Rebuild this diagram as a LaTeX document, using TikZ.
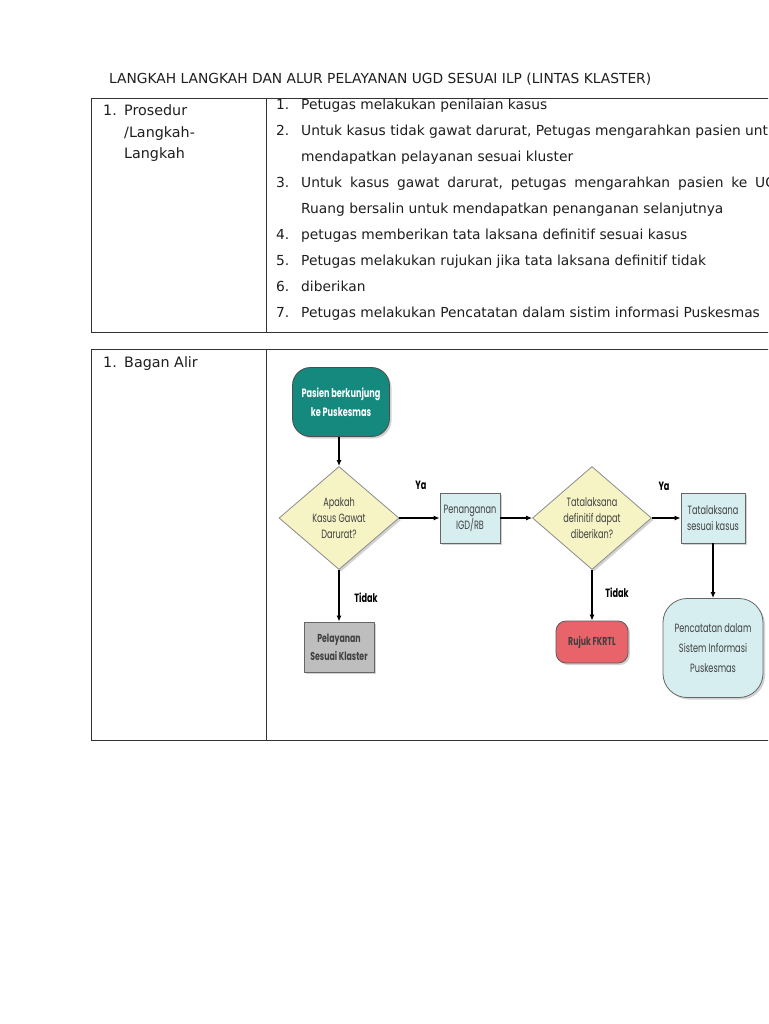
\documentclass[tikz,border=0pt]{standalone}
\usepackage{fontspec}
\setmainfont{DejaVu Sans}
\newfontfamily\flowfont[FakeStretch=0.68]{Poppins}
\usetikzlibrary{shapes.geometric,arrows.meta,shadows}
\definecolor{tealc}{RGB}{22,137,126}
\definecolor{yellowc}{RGB}{246,244,196}
\definecolor{cyanc}{RGB}{214,238,240}
\definecolor{grayc}{RGB}{190,190,190}
\definecolor{redc}{RGB}{232,100,106}
\definecolor{txtc}{RGB}{30,30,30}
\begin{document}
\begin{tikzpicture}[x=1pt,y=-1pt,
  tbl/.style={draw=black!80,line width=0.9pt},
  txt/.style={anchor=base west,inner sep=0pt,font=\fontsize{13.8}{16}\selectfont,text=txtc},
  ltxt/.style={txt,font=\fontsize{14.3}{16}\selectfont},
  fbox/.style={draw=black!60,line width=0.8pt,align=center,inner sep=1pt,
     font=\flowfont\fontsize{12}{16}\selectfont,text=black!75,
     drop shadow={shadow xshift=2pt,shadow yshift=-2pt,opacity=0.35}},
  dia/.style={fbox,diamond,fill=yellowc,draw=black!45,inner sep=0pt},
  conn/.style={-{Latex[length=6pt,width=5pt]},line width=2pt,black},
  lbl/.style={font=\flowfont\bfseries\fontsize{12}{12}\selectfont,inner sep=0pt}
]
\useasboundingbox (0,0) rectangle (768,1024);
\clip (0,0) rectangle (768,1024);
\fill[white] (0,0) rectangle (768,1024);

% title
\node[txt] (title) at (109,84) {LANGKAH LANGKAH DAN ALUR PELAYANAN UGD SESUAI ILP (LINTAS KLASTER)};

% table 1
\draw[tbl] (91,98) rectangle (800,332);
\draw[tbl] (266,98) -- (266,332);
\node[ltxt] (l1n) at (103,116) {1.};
\node[ltxt] (l1a) at (124,116) {Prosedur};
\node[ltxt] (l1b) at (124,138) {/Langkah-};
\node[ltxt] (l1c) at (124,159) {Langkah};

\node[txt] (n1) at (276,110) {1.};
\node[txt] (t1) at (301,110) {Petugas melakukan penilaian kasus};
\node[txt] (n2) at (276,136) {2.};
\node[txt] (t2) at (301,136) {Untuk kasus tidak gawat darurat, Petugas mengarahkan pasien untuk};
\node[txt] (t2b) at (301,162) {mendapatkan pelayanan sesuai kluster};
\node[txt] (n3) at (276,188) {3.};
\node[txt] (t3) at (301,188) {\hbox to 490pt{Untuk\hfil\ kasus\hfil\ gawat\hfil\ darurat,\hfil\ petugas\hfil\ mengarahkan\hfil\ pasien\hfil\ ke\hfil\ UGD/}};
\node[txt] (t3b) at (301,214) {Ruang bersalin untuk mendapatkan penanganan selanjutnya};
\node[txt] (n4) at (276,240) {4.};
\node[txt] (t4) at (301,240) {petugas memberikan tata laksana definitif sesuai kasus};
\node[txt] (n5) at (276,265) {5.};
\node[txt] (t5) at (301,265) {Petugas melakukan rujukan jika tata laksana definitif tidak};
\node[txt] (n6) at (276,291) {6.};
\node[txt] (t6) at (301,291) {diberikan};
\node[txt] (n7) at (276,317) {7.};
\node[txt] (t7) at (301,317) {Petugas melakukan Pencatatan dalam sistim informasi Puskesmas};

% table 2
\draw[tbl] (91,349) rectangle (800,740);
\draw[tbl] (266,349) -- (266,740);
\node[ltxt] (b1n) at (103,367) {1.};
\node[ltxt] (b1a) at (124,367) {Bagan Alir};

% flowchart
\node[fbox,fill=tealc,draw=black!70,rounded corners=18pt,minimum width=97pt,minimum height=69pt,text=white,font=\flowfont\bfseries\fontsize{12}{19}\selectfont] (start) at (341,402) {Pasien berkunjung\\ke Puskesmas};
\node[dia,minimum width=120pt,minimum height=103pt] (d1) at (339,518) {Apakah\\Kasus Gawat\\Darurat?};
\node[fbox,fill=cyanc,minimum width=60pt,minimum height=50pt] (igd) at (470,518) {Penanganan\\IGD/RB};
\node[dia,minimum width=119pt,minimum height=103pt] (d2) at (592,518) {Tatalaksana\\definitif dapat\\diberikan?};
\node[fbox,fill=cyanc,minimum width=64pt,minimum height=50pt] (tk) at (713,518) {Tatalaksana\\sesuai kasus};
\node[fbox,fill=cyanc,rounded corners=24pt,minimum width=100pt,minimum height=99pt,font=\flowfont\fontsize{12}{20}\selectfont] (pc) at (713,648) {Pencatatan dalam\\Sistem Informasi\\Puskesmas};
\node[fbox,fill=grayc,minimum width=70pt,minimum height=50pt,font=\flowfont\bfseries\fontsize{11.5}{18}\selectfont] (pk) at (339,647) {Pelayanan\\Sesuai Klaster};
\node[fbox,fill=redc,draw=black!65,rounded corners=10pt,minimum width=72pt,minimum height=42pt,font=\flowfont\bfseries\fontsize{11.5}{14}\selectfont] (rj) at (592,642) {Rujuk FKRTL};

\draw[conn] (start.south -| d1.north) -- (d1.north);
\draw[conn] (d1.east) -- (igd.west);
\draw[conn] (igd.east) -- (d2.west);
\draw[conn] (d2.east) -- (tk.west);
\draw[conn] (tk.south) -- (pc.north -| tk.south);
\draw[conn] (d1.south) -- (pk.north -| d1.south);
\draw[conn] (d2.south) -- (rj.north);

\node[lbl] (ya1) at (421,485) {Ya};
\node[lbl] (ya2) at (664,486) {Ya};
\node[lbl] (td1) at (366,598) {Tidak};
\node[lbl] (td2) at (617,593) {Tidak};
\end{tikzpicture}
\end{document}
